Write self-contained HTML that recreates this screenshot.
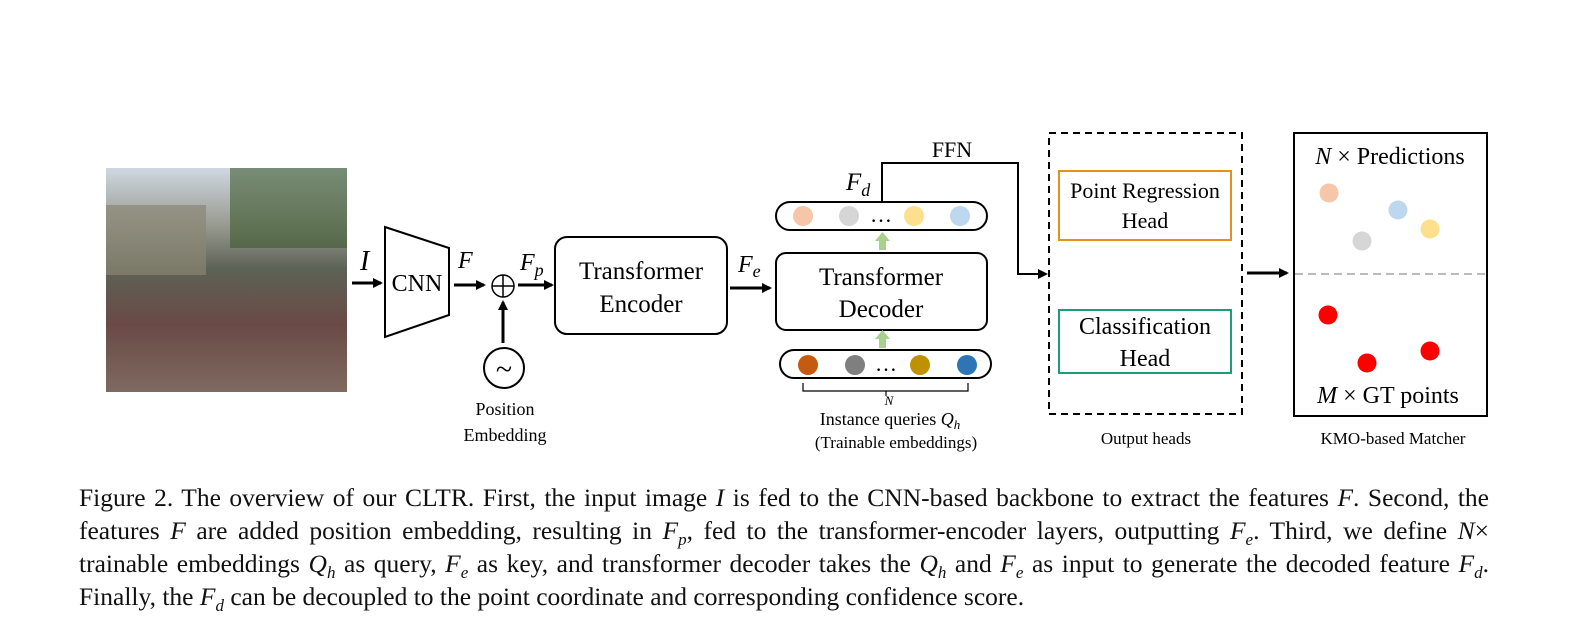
<!DOCTYPE html>
<html><head><meta charset="utf-8"><style>
body{margin:0;background:#fff;width:1574px;height:618px;overflow:hidden;position:relative;font-family:"Liberation Serif",serif}
.cap{position:absolute;left:79px;width:1410px;top:481px;font-size:25.5px;line-height:33px;color:#111;white-space:nowrap}
.cap div{text-align:justify;text-align-last:justify;height:33px}
.cap div.l{text-align-last:left}
.cap i{font-style:italic}
.cap sub{font-size:17px;line-height:0}
</style></head><body>
<svg width="1574" height="480" style="position:absolute;left:0;top:0" font-family="Liberation Serif, serif">
<defs>
<marker id="a" markerWidth="10" markerHeight="10" refX="8" refY="5" orient="auto" markerUnits="userSpaceOnUse"><path d="M0,0 L10,5 L0,10 z" fill="#000"/></marker>
<linearGradient id="img" x1="0" y1="0" x2="0" y2="1">
<stop offset="0" stop-color="#cfd8e2"/><stop offset="0.25" stop-color="#9a9c92"/><stop offset="0.45" stop-color="#5d6256"/><stop offset="0.7" stop-color="#6a4a46"/><stop offset="1" stop-color="#7e6a60"/></linearGradient>
</defs>
<rect x="106" y="168" width="241" height="224" fill="url(#img)"/>
<rect x="106" y="205" width="100" height="70" fill="#8a8674" opacity="0.7"/>
<rect x="230" y="168" width="117" height="80" fill="#3e5a2e" opacity="0.6"/>
<polygon points="385,227 449,248 449,315 385,337" fill="#fff" stroke="#000" stroke-width="2"/>
<text x="417" y="291" font-size="24" text-anchor="middle">CNN</text>
<line x1="352" y1="283" x2="381" y2="283" stroke="#000" stroke-width="3" marker-end="url(#a)"/>
<text x="360" y="270" font-size="28" font-style="italic">I</text>
<line x1="454" y1="285" x2="484" y2="285" stroke="#000" stroke-width="3" marker-end="url(#a)"/>
<text x="458" y="268" font-size="24" font-style="italic">F</text>
<circle cx="503" cy="286" r="11" fill="none" stroke="#000" stroke-width="1.5"/>
<line x1="492" y1="286" x2="514" y2="286" stroke="#000" stroke-width="1.5"/><line x1="503" y1="275" x2="503" y2="297" stroke="#000" stroke-width="1.5"/>
<line x1="503" y1="343" x2="503" y2="302" stroke="#000" stroke-width="3" marker-end="url(#a)"/>
<circle cx="504" cy="368" r="20" fill="none" stroke="#000" stroke-width="2"/>
<text x="504" y="379" font-size="30" text-anchor="middle">~</text>
<text x="505" y="415" font-size="18" text-anchor="middle">Position</text>
<text x="505" y="441" font-size="18" text-anchor="middle">Embedding</text>
<line x1="518" y1="285" x2="552" y2="285" stroke="#000" stroke-width="3" marker-end="url(#a)"/>
<text x="520" y="270" font-size="24" font-style="italic">F<tspan font-size="18" dy="6">p</tspan></text>
<rect x="555" y="237" width="172" height="97" rx="12" fill="#fff" stroke="#000" stroke-width="2"/>
<text x="641" y="279" font-size="25" text-anchor="middle">Transformer</text>
<text x="641" y="312" font-size="25" text-anchor="middle">Encoder</text>
<line x1="730" y1="288" x2="770" y2="288" stroke="#000" stroke-width="3" marker-end="url(#a)"/>
<text x="738" y="272" font-size="24" font-style="italic">F<tspan font-size="18" dy="5">e</tspan></text>
<rect x="776" y="253" width="211" height="77" rx="10" fill="#fff" stroke="#000" stroke-width="2"/>
<text x="881" y="285" font-size="25" text-anchor="middle">Transformer</text>
<text x="881" y="317" font-size="25" text-anchor="middle">Decoder</text>
<rect x="776" y="202" width="211" height="28" rx="14" fill="#fff" stroke="#000" stroke-width="2"/>
<ellipse cx="803" cy="216" rx="10" ry="10" fill="#f6c6a8"/><ellipse cx="849" cy="216" rx="10" ry="10" fill="#d6d6d6"/>
<ellipse cx="914" cy="216" rx="10" ry="10" fill="#fde08e"/><ellipse cx="960" cy="216" rx="10" ry="10" fill="#bdd7ee"/>
<text x="881" y="222" font-size="22" text-anchor="middle">…</text>
<rect x="780" y="350" width="211" height="28" rx="14" fill="#fff" stroke="#000" stroke-width="2"/>
<ellipse cx="808" cy="365" rx="10" ry="10" fill="#c55a11"/><ellipse cx="855" cy="365" rx="10" ry="10" fill="#7f7f7f"/>
<ellipse cx="920" cy="365" rx="10" ry="10" fill="#bf9000"/><ellipse cx="967" cy="365" rx="10" ry="10" fill="#2e75b6"/>
<text x="886" y="371" font-size="22" text-anchor="middle">…</text>
<g fill="#a9d18e"><rect x="879" y="240" width="7" height="10"/><polygon points="875,241 882.5,232 890,241"/>
<rect x="879" y="338" width="7" height="10"/><polygon points="875,339 882.5,330 890,339"/></g>
<path d="M803,383 V391 H968 V383 M886,391 V396" fill="none" stroke="#000" stroke-width="1.2"/>
<text x="889" y="405" font-size="13" font-style="italic" text-anchor="middle">N</text>
<text x="890" y="425" font-size="18" text-anchor="middle">Instance queries <tspan font-style="italic">Q<tspan font-size="13" dy="4">h</tspan></tspan></text>
<text x="896" y="448" font-size="17" text-anchor="middle">(Trainable embeddings)</text>
<text x="846" y="190" font-size="25" font-style="italic">F<tspan font-size="18" dy="6">d</tspan></text>
<path d="M882,202 V163 H1018 V274 H1046" fill="none" stroke="#000" stroke-width="2" marker-end="url(#a)"/>
<text x="952" y="157" font-size="22" text-anchor="middle">FFN</text>
<rect x="1049" y="133" width="193" height="281" fill="none" stroke="#000" stroke-width="2" stroke-dasharray="7,5"/>
<rect x="1059" y="171" width="172" height="69" fill="none" stroke="#e5901e" stroke-width="2"/>
<text x="1145" y="198" font-size="22" text-anchor="middle">Point Regression</text>
<text x="1145" y="228" font-size="22" text-anchor="middle">Head</text>
<rect x="1059" y="310" width="172" height="63" fill="none" stroke="#1b9e77" stroke-width="2"/>
<text x="1145" y="334" font-size="24" text-anchor="middle">Classification</text>
<text x="1145" y="366" font-size="24" text-anchor="middle">Head</text>
<text x="1146" y="444" font-size="17" text-anchor="middle">Output heads</text>
<line x1="1247" y1="273" x2="1287" y2="273" stroke="#000" stroke-width="3" marker-end="url(#a)"/>
<rect x="1294" y="133" width="193" height="283" fill="none" stroke="#000" stroke-width="2"/>
<line x1="1295" y1="274" x2="1486" y2="274" stroke="#bbb" stroke-width="2" stroke-dasharray="8,5"/>
<text x="1390" y="164" font-size="24" text-anchor="middle"><tspan font-style="italic">N</tspan> × Predictions</text>
<text x="1388" y="403" font-size="24" text-anchor="middle"><tspan font-style="italic">M</tspan> × GT points</text>
<circle cx="1329" cy="193" r="9.5" fill="#f6c6a8"/><circle cx="1398" cy="210" r="9.5" fill="#bdd7ee"/>
<circle cx="1430" cy="229" r="9.5" fill="#fde08e"/><circle cx="1362" cy="241" r="9.5" fill="#d6d6d6"/>
<circle cx="1328" cy="315" r="9.5" fill="#f00"/><circle cx="1367" cy="363" r="9.5" fill="#f00"/><circle cx="1430" cy="351" r="9.5" fill="#f00"/>
<text x="1393" y="444" font-size="17" text-anchor="middle">KMO-based Matcher</text>
</svg>
<div class="cap">
<div>Figure 2. The overview of our CLTR. First, the input image <i>I</i> is fed to the CNN-based backbone to extract the features <i>F</i>. Second, the</div>
<div>features <i>F</i> are added position embedding, resulting in <i>F<sub>p</sub></i>, fed to the transformer-encoder layers, outputting <i>F<sub>e</sub></i>. Third, we define <i>N</i>×</div>
<div>trainable embeddings <i>Q<sub>h</sub></i> as query, <i>F<sub>e</sub></i> as key, and transformer decoder takes the <i>Q<sub>h</sub></i> and <i>F<sub>e</sub></i> as input to generate the decoded feature <i>F<sub>d</sub></i>.</div>
<div class="l">Finally, the <i>F<sub>d</sub></i> can be decoupled to the point coordinate and corresponding confidence score.</div>
</div>
</body></html>
